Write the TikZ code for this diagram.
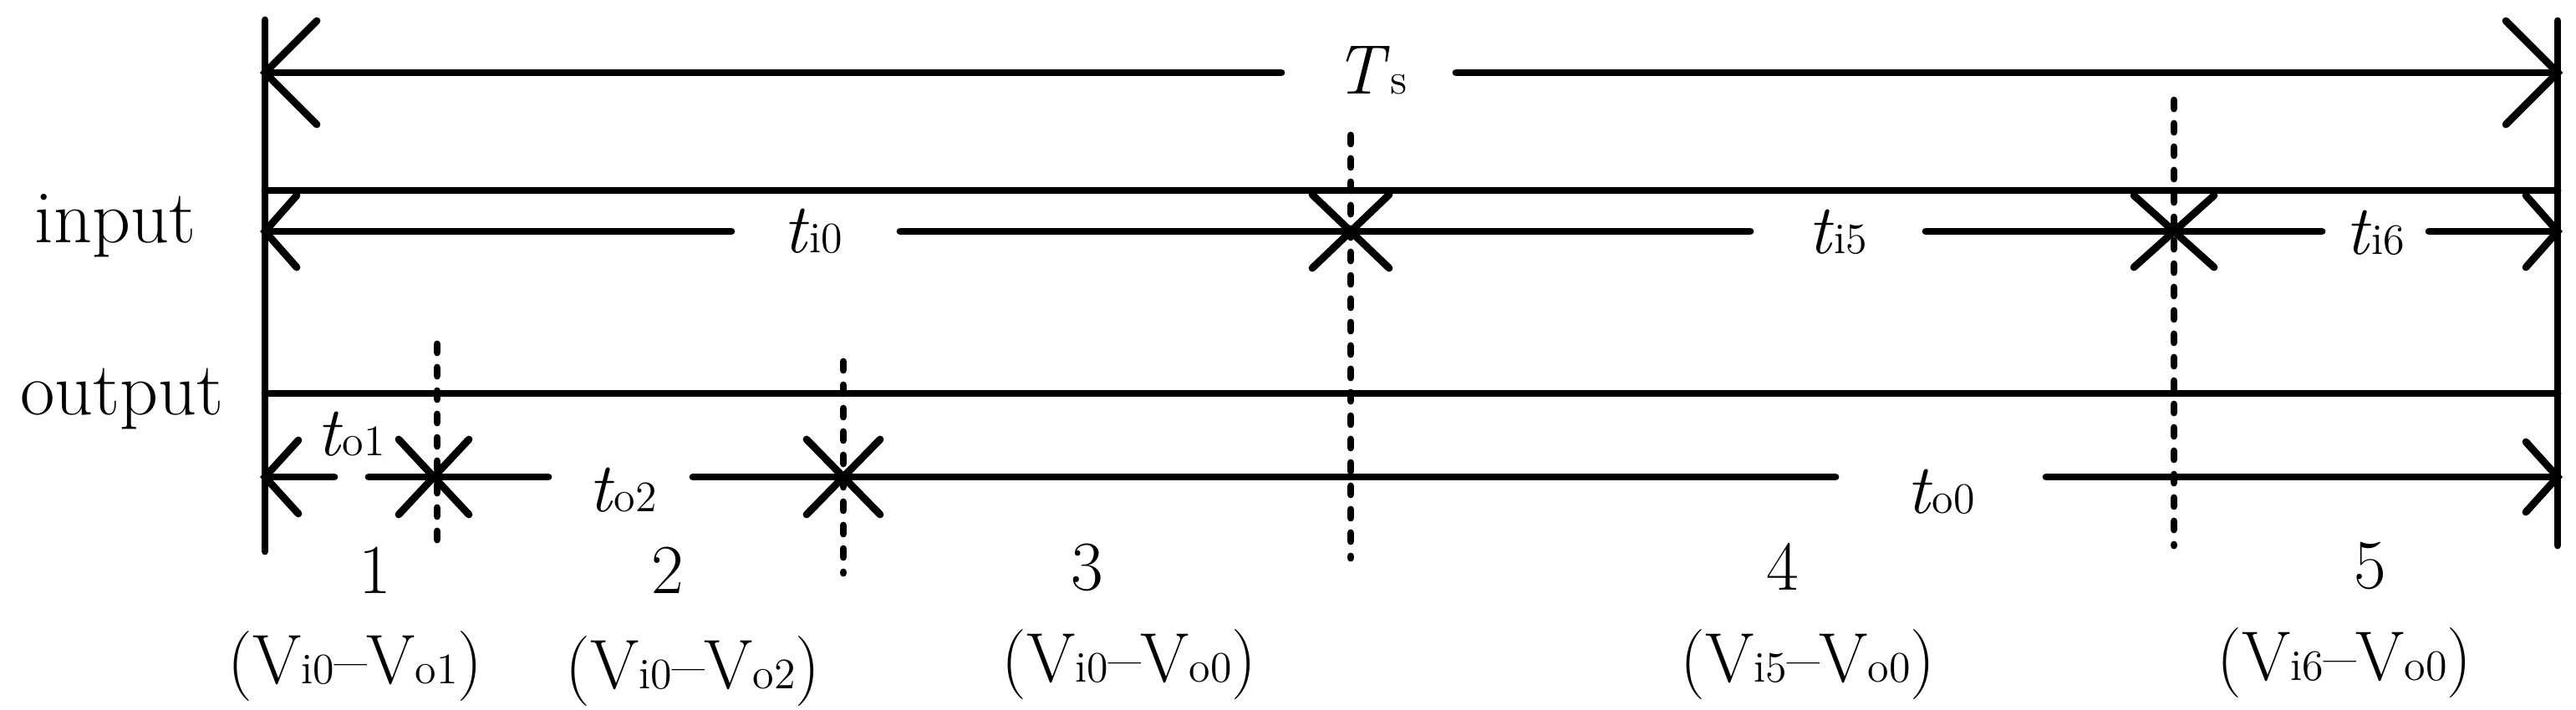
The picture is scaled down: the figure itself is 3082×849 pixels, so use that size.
\documentclass[tikz,border=0pt]{standalone}
\usepackage{fontspec}
\newcommand{\mysb}[1]{{\fontsize{13}{13}\selectfont #1}}
\newcommand{\myt}[1]{\textit{t}\mysb{#1}}
\newcommand{\myv}[2]{(V\mysb{#1}--V\mysb{#2})}
\begin{document}
\begin{tikzpicture}[x=0.25pt,y=-0.25pt,
  ln/.style={line width=2.2pt,line cap=round},
  dsh/.style={line width=2.2pt,line cap=round,dash pattern=on 2.5pt off 4.5pt},
  lbl/.style={inner sep=0pt,anchor=base,font=\fontsize{21}{24}\selectfont}]
\useasboundingbox (0,0) rectangle (3082,849);
% frame coordinates
\coordinate (L0) at (317,24);  \coordinate (L1) at (317,660);
\coordinate (R0) at (3060,25); \coordinate (R1) at (3060,653);
\draw[ln] (L0) -- (L1);
\draw[ln] (R0) -- (R1);
% Ts arrow
\coordinate (TsL) at (317,87);  \coordinate (TsR) at (3060,87);
\coordinate (TsA) at (1533,87); \coordinate (TsB) at (1742,87);
\node[lbl] (Ts) at (1640,112) {\textit{T}\mysb{s}};
\draw[ln] (TsL) -- (TsA);
\draw[ln] (TsB) -- (TsR);
\draw[ln] (TsL) ++(62,-62) -- (TsL) -- ++(62,62);
\draw[ln] (TsR) ++(-62,-62) -- (TsR) -- ++(-62,62);
% input / output lines
\coordinate (InL) at (317,228); \coordinate (InR) at (3060,228);
\coordinate (OutL) at (317,471); \coordinate (OutR) at (3060,471);
\draw[ln] (InL) -- (InR);
\draw[ln] (OutL) -- (OutR);
\node[lbl,font=\fontsize{22.5}{24}\selectfont] (input) at (138,290) {input};
\node[lbl,font=\fontsize{22.5}{24}\selectfont] (output) at (146,496) {output};
% dashed lines
\coordinate (D1a) at (523,412);  \coordinate (D1b) at (523,661);
\coordinate (D2a) at (1009,433); \coordinate (D2b) at (1009,686);
\coordinate (D3a) at (1616,162); \coordinate (D3b) at (1616,668);
\coordinate (D4a) at (2601,120); \coordinate (D4b) at (2601,653);
\draw[dsh] (D1a) -- (D1b);
\draw[dsh] (D2a) -- (D2b);
\draw[dsh] (D3a) -- (D3b);
\draw[dsh] (D4a) -- (D4b);
% ti arrow
\coordinate (TiL) at (317,277);  \coordinate (TiR) at (3060,277);
\coordinate (Ti1) at (875,277);  \coordinate (Ti2) at (1077,277);
\coordinate (X3) at (1616,277);
\coordinate (Ti3) at (2094,277); \coordinate (Ti4) at (2304,277);
\coordinate (X4) at (2601,277);
\coordinate (Ti5) at (2778,277); \coordinate (Ti6) at (2906,277);
\node[lbl] (ti0) at (973,302) {\myt{i0}};
\node[lbl] (ti5) at (2199,303) {\myt{i5}};
\node[lbl] (ti6) at (2842,304) {\myt{i6}};
\draw[ln] (TiL) -- (Ti1);
\draw[ln] (Ti2) -- (X3) -- (Ti3);
\draw[ln] (Ti4) -- (X4) -- (Ti5);
\draw[ln] (Ti6) -- (TiR);
\draw[ln] (TiL) ++(38,-43) -- (TiL) -- ++(38,43);
\draw[ln] (TiR) ++(-38,-43) -- (TiR) -- ++(-38,43);
\draw[ln] (X3) ++(-46,-44) -- ++(92,88);
\draw[ln] (X3) ++(-46,44) -- ++(92,-88);
\draw[ln] (X4) ++(-48,-43) -- ++(96,86);
\draw[ln] (X4) ++(-48,43) -- ++(96,-86);
% to arrow
\coordinate (ToL) at (317,571);  \coordinate (ToR) at (3060,571);
\coordinate (To1) at (400,571);  \coordinate (To2) at (441,571);
\coordinate (X1) at (519,571);
\coordinate (To3) at (656,571);  \coordinate (To4) at (829,571);
\coordinate (X2) at (1009,571);
\coordinate (To5) at (2196,571); \coordinate (To6) at (2448,571);
\node[lbl] (to1) at (420,545) {\myt{o1}};
\node[lbl] (to2) at (745,612) {\myt{o2}};
\node[lbl] (to0) at (2322,614) {\myt{o0}};
\draw[ln] (ToL) -- (To1);
\draw[ln] (To2) -- (X1) -- (To3);
\draw[ln] (To4) -- (X2) -- (To5);
\draw[ln] (To6) -- (ToR);
\draw[ln] (ToL) ++(40,-44) -- (ToL) -- ++(40,44);
\draw[ln] (ToR) ++(-38,-42) -- (ToR) -- ++(-38,42);
\draw[ln] (X1) ++(-42,-45) -- ++(84,90);
\draw[ln] (X1) ++(-42,45) -- ++(84,-90);
\draw[ln] (X2) ++(-44,-45) -- ++(88,90);
\draw[ln] (X2) ++(-44,45) -- ++(88,-90);
% region numbers
\node[lbl] (n1) at (449,710) {1};
\node[lbl] (n2) at (799,710) {2};
\node[lbl] (n3) at (1301,706) {3};
\node[lbl] (n4) at (2133,706) {4};
\node[lbl] (n5) at (2836,704) {5};
% voltage pairs
\node[lbl] (v1) at (425,818) {\myv{i0}{o1}};
\node[lbl] (v2) at (829,824) {\myv{i0}{o2}};
\node[lbl] (v3) at (1351,816) {\myv{i0}{o0}};
\node[lbl] (v4) at (2163,816) {\myv{i5}{o0}};
\node[lbl] (v5) at (2805,814) {\myv{i6}{o0}};
\end{tikzpicture}
\end{document}
